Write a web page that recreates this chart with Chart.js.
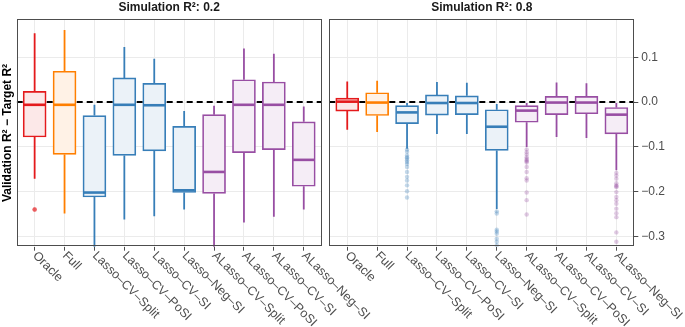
<!DOCTYPE html>
<html>
<head>
<meta charset="utf-8">
<script src="https://cdn.jsdelivr.net/npm/chart.js@4.4.1/dist/chart.umd.min.js"></script>
<style>
  body { margin: 0; background: #fff; }
  #wrap { position: relative; width: 685px; height: 327px; overflow: hidden; background: #fff; }
  .panel { position: absolute; top: 0; height: 327px; }
  #left { left: 0; width: 400px; }
  #right { left: 320px; width: 365px; }
</style>
</head>
<body>
<div id="wrap">
  <div class="panel" id="left"><canvas id="chartLow"></canvas></div>
  <div class="panel" id="right"><canvas id="chartHigh"></canvas></div>
</div>
<script>
// Métodos (eje x)
const categories = ["Oracle", "Full", "Lasso–CV–Split", "Lasso–CV–PoSI", "Lasso–CV–SI", "Lasso–Neg–SI",
  "ALasso–CV–Split", "ALasso–CV–PoSI", "ALasso–CV–SI", "ALasso–Neg–SI"]

// Simulation R²: 0.2
const low02 = [-0.171, -0.249, -0.345, -0.262, -0.255, -0.240, -0.345, -0.269, -0.256, -0.240]
const q1_02 = [-0.078, -0.117, -0.212, -0.119, -0.109, -0.202, -0.204, -0.113, -0.106, -0.188]
const med02 = [-0.006, -0.006, -0.202, -0.006, -0.007, -0.197, -0.156, -0.006, -0.006, -0.129]
const q3_02 = [0.024, 0.069, -0.030, 0.054, 0.042, -0.054, -0.028, 0.050, 0.045, -0.044]
const high02 = [0.154, 0.161, -0.006, 0.123, 0.097, -0.020, -0.008, 0.120, 0.108, -0.010]
const out02 = [[-0.240, -0.240], [], [], [], [], [], [], [], [], []]

// Simulation R²: 0.8
const low08 = [-0.062, -0.067, -0.104, -0.071, -0.071, -0.239, -0.100, -0.078, -0.080, -0.152]
const q1_08 = [-0.020, -0.030, -0.048, -0.029, -0.028, -0.108, -0.045, -0.028, -0.026, -0.071]
const med08 = [0.001, -0.001, -0.023, -0.002, -0.002, -0.055, -0.019, -0.001, -0.001, -0.028]
const q3_08 = [0.009, 0.021, -0.008, 0.016, 0.014, -0.017, -0.008, 0.013, 0.013, -0.012]
const high08 = [0.046, 0.048, -0.002, 0.045, 0.043, -0.004, -0.002, 0.044, 0.042, -0.002]
const out08 = [
  [], [],
  [-0.106, -0.111, -0.119, -0.123, -0.126, -0.130, -0.134, -0.138, -0.145, -0.156, -0.167, -0.175, -0.186, -0.199, -0.213],
  [], [],
  [-0.244, -0.249, -0.285, -0.289, -0.294, -0.305, -0.312, -0.320],
  [-0.106, -0.112, -0.117, -0.123, -0.127, -0.130, -0.132, -0.135, -0.145, -0.156, -0.170, -0.175, -0.202, -0.219, -0.251],
  [], [],
  [-0.158, -0.164, -0.171, -0.181, -0.186, -0.188, -0.190, -0.201, -0.212, -0.219, -0.227, -0.238, -0.248, -0.257, -0.291, -0.312]
]

const yTicks = [-0.3, -0.2, -0.1, 0.0, 0.1]

// Colores
const strokeColors = ["#E41A1C", "#FF7F00", "#377EB8", "#377EB8", "#377EB8", "#377EB8", "#984EA3", "#984EA3", "#984EA3", "#984EA3"]
const fillColors = ["#fce8e8", "#fff2e6", "#ebf2f8", "#ebf2f8", "#ebf2f8", "#ebf2f8", "#f5edf6", "#f5edf6", "#f5edf6", "#f5edf6"]
const pointColors = ["rgba(228,26,28,0.45)", "rgba(255,127,0,0.3)", "rgba(55,126,184,0.3)", "rgba(55,126,184,0.3)", "rgba(55,126,184,0.3)",
  "rgba(55,126,184,0.3)", "rgba(152,78,163,0.3)", "rgba(152,78,163,0.3)", "rgba(152,78,163,0.3)", "rgba(152,78,163,0.3)"]

const FONT = "'Liberation Sans', Arial, Helvetica, sans-serif"

// Plugin para bigotes, medianas, borde del panel y etiquetas
function boxParts(stats, panelTitle) {
  return {
    id: "boxParts",
    beforeDatasetsDraw(chart) {
      const { ctx, chartArea: a, scales: { x, y } } = chart
      ctx.save()
      ctx.beginPath()
      ctx.rect(a.left, a.top, a.width, a.height)
      ctx.clip()
      // línea de referencia en cero
      const y0 = y.getPixelForValue(0)
      ctx.strokeStyle = "#000"
      ctx.lineWidth = 2
      ctx.setLineDash([6, 4])
      ctx.beginPath()
      ctx.moveTo(a.left, y0)
      ctx.lineTo(a.right, y0)
      ctx.stroke()
      ctx.setLineDash([])
      // bigotes
      ctx.lineWidth = 1.8
      stats.high.forEach((v, i) => {
        const px = x.getPixelForValue(i)
        ctx.strokeStyle = strokeColors[i]
        ctx.beginPath()
        ctx.moveTo(px, y.getPixelForValue(stats.q3[i]))
        ctx.lineTo(px, y.getPixelForValue(v))
        ctx.moveTo(px, y.getPixelForValue(stats.q1[i]))
        ctx.lineTo(px, y.getPixelForValue(stats.low[i]))
        ctx.stroke()
      })
      ctx.restore()
    },
    afterDatasetsDraw(chart) {
      const { ctx, scales: { y } } = chart
      const bars = chart.getDatasetMeta(0).data
      ctx.save()
      ctx.lineWidth = 2.6
      stats.med.forEach((m, i) => {
        const bar = bars[i]
        const py = y.getPixelForValue(m)
        ctx.strokeStyle = strokeColors[i]
        ctx.beginPath()
        ctx.moveTo(bar.x - bar.width / 2 + 0.8, py)
        ctx.lineTo(bar.x + bar.width / 2 - 0.8, py)
        ctx.stroke()
      })
      ctx.restore()
    },
    afterDraw(chart) {
      const { ctx, chartArea: a, scales: { x } } = chart
      ctx.save()
      // borde del panel
      ctx.strokeStyle = "#4d4d4d"
      ctx.lineWidth = 1
      ctx.strokeRect(Math.round(a.left) + 0.5, Math.round(a.top) + 0.5, Math.round(a.width) - 1, Math.round(a.height) - 1)
      // título del panel
      ctx.fillStyle = "#1a1a1a"
      ctx.font = "bold 12px " + FONT
      ctx.textAlign = "center"
      ctx.textBaseline = "middle"
      ctx.fillText(panelTitle, (a.left + a.right) / 2, 8)
      // etiquetas rotadas del eje x
      ctx.fillStyle = "#4d4d4d"
      ctx.font = "12.5px " + FONT
      ctx.textAlign = "left"
      categories.forEach((c, i) => {
        const px = x.getPixelForValue(i)
        ctx.save()
        ctx.translate(px, a.bottom + 7)
        ctx.rotate(Math.PI / 4)
        ctx.fillText(c, 0, 0)
        ctx.restore()
      })
      ctx.restore()
    }
  }
}

function buildPanel(canvasId, panelTitle, stats, outliers, isRight) {
  const outlierPoints = []
  outliers.forEach((vals, i) => vals.forEach((v) => outlierPoints.push({ x: i, y: v })))

  const ctx = document.getElementById(canvasId).getContext("2d")
  return new Chart(ctx, {
    type: "bar",
    data: {
      datasets: [
        {
          label: "box",
          data: stats.q1.map((q, i) => ({ x: i, y: [q, stats.q3[i]] })),
          backgroundColor: fillColors,
          borderColor: strokeColors,
          borderWidth: 1.7,
          borderSkipped: false,
          barThickness: 23,
          order: 2,
        },
        {
          type: "scatter",
          label: "outliers",
          data: outlierPoints,
          backgroundColor: (c) => (c.raw ? pointColors[c.raw.x] : "transparent"),
          borderWidth: 0,
          pointRadius: 2.2,
          order: 1,
        },
      ],
    },
    options: {
      responsive: true,
      maintainAspectRatio: false,
      animation: false,
      events: [],
      layout: {
        padding: isRight ? { top: 19.3, left: 9.3, right: 0, bottom: 0 } : { top: 19.3, left: 0, right: 78.3, bottom: 0 },
      },
      plugins: {
        legend: { display: false },
        tooltip: { enabled: false },
      },
      scales: {
        x: {
          type: "linear",
          min: -0.6,
          max: 9.6,
          offset: false,
          ticks: { stepSize: 1, display: false, includeBounds: false },
          grid: { color: "#ebebeb", lineWidth: 1, offset: false, drawTicks: true, tickLength: 4, tickColor: "#4d4d4d" },
          border: { display: false },
          afterFit: (scale) => { scale.height = 80.3 },
        },
        y: {
          position: isRight ? "right" : "left",
          min: -0.323,
          max: 0.185,
          afterBuildTicks: (scale) => { scale.ticks = yTicks.map((v) => ({ value: v })) },
          ticks: {
            display: isRight,
            color: "#4d4d4d",
            padding: 3,
            font: { family: FONT, size: 12 },
            callback: (v) => (v < -1e-9 ? "−" : "") + Math.abs(v).toFixed(1),
          },
          grid: { color: "#ebebeb", lineWidth: 1, drawTicks: isRight, tickLength: 4, tickColor: "#4d4d4d" },
          border: { display: false },
          title: {
            display: !isRight,
            text: "Validation R² − Target R²",
            color: "#000",
            font: { family: FONT, size: 12, weight: "bold" },
            padding: { top: 0, bottom: 0 },
          },
          afterFit: (scale) => { scale.width = isRight ? 50.7 : 16.7 },
        },
      },
    },
    plugins: [boxParts(stats, panelTitle)],
  })
}

window.addEventListener("load", () => {
  buildPanel("chartLow", "Simulation R²: 0.2",
    { low: low02, q1: q1_02, med: med02, q3: q3_02, high: high02 }, out02, false)
  buildPanel("chartHigh", "Simulation R²: 0.8",
    { low: low08, q1: q1_08, med: med08, q3: q3_08, high: high08 }, out08, true)
})
</script>
</body>
</html>
